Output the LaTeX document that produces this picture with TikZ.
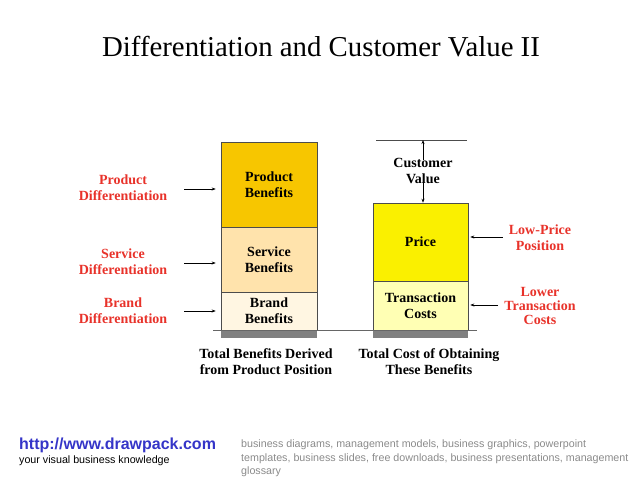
\documentclass[tikz,border=0pt]{standalone}
\usepackage{fontspec}
\setmainfont{Liberation Serif}
\newfontfamily\arialfont{Liberation Sans}
\usetikzlibrary{arrows.meta}
\definecolor{lblred}{HTML}{E8322A}
\definecolor{prodfill}{HTML}{F7C600}
\definecolor{servfill}{HTML}{FFE3AC}
\definecolor{brandfill}{HTML}{FFF6E2}
\definecolor{pricefill}{HTML}{FAF000}
\definecolor{transfill}{HTML}{FFFFB4}
\definecolor{linkblue}{HTML}{3535C8}
\definecolor{footgray}{HTML}{8A8A8A}
\tikzset{
  barbox/.style={draw=black!70, line width=0.6pt, inner sep=0pt, align=center,
    font=\bfseries\fontsize{14}{16}\selectfont},
  redlbl/.style={text=lblred, inner sep=0pt, align=center,
    font=\bfseries\fontsize{14}{16}\selectfont},
  blklbl/.style={inner sep=0pt, align=center,
    font=\bfseries\fontsize{14}{16}\selectfont},
  arr/.style={-{Stealth[length=4pt,width=3pt]}, line width=0.6pt},
  shadowbar/.style={fill=black!50, draw=none}
}
\begin{document}
\begin{tikzpicture}[x=1pt,y=-1pt]
\useasboundingbox (0,0) rectangle (640,480);
% title
\node[inner sep=0pt, font=\fontsize{28.8}{32}\selectfont] (title) at (321,47) {Differentiation and Customer Value II};
% left bar
\node[barbox, fill=prodfill, minimum width=96pt, minimum height=85pt] (prod) at (269,184.5) {Product\\Benefits};
\node[barbox, fill=servfill, minimum width=96pt, minimum height=65pt] (serv) at (269,259.5) {Service\\Benefits};
\node[barbox, fill=brandfill, minimum width=96pt, minimum height=38pt] (brand) at (269,311) {Brand\\Benefits};
\fill[shadowbar] (221,330) rectangle (317,338);
% right bar
\node[barbox, fill=pricefill, minimum width=95pt, minimum height=78pt] (price) at (420.5,242) {Price};
\node[barbox, fill=transfill, minimum width=95pt, minimum height=49pt] (trans) at (420.5,305.5) {Transaction\\Costs};
\fill[shadowbar] (373,330) rectangle (468,338);
% ground line
\coordinate (g1) at (213,330);
\coordinate (g2) at (477,330);
\draw[black!60, line width=0.8pt] (g1) -- (g2);
% top line and customer value
\coordinate (t1) at (376,140);
\coordinate (t2) at (467,140);
\draw[black!70, line width=0.6pt] (t1) -- (t2);
\node[blklbl] (cv) at (423,171) {Customer\\Value};
\draw[arr] ([yshift=-2pt]cv.north) -- (cv.north |- t1);
\draw[arr] ([yshift=2pt]cv.south) -- (cv.south |- price.north);
% left labels
\node[redlbl] (pd) at (123,188) {Product\\Differentiation};
\node[redlbl] (sd) at (123,262) {Service\\Differentiation};
\node[redlbl] (bd) at (123,311) {Brand\\Differentiation};
\draw[arr, shorten >=5pt] ([xshift=17pt,yshift=-1pt]pd.east) -- ([yshift=-1pt]pd.east -| prod.west);
\draw[arr, shorten >=5pt] ([xshift=17pt,yshift=-1pt]sd.east) -- ([yshift=-1pt]sd.east -| serv.west);
\draw[arr, shorten >=5pt] ([xshift=17pt]bd.east) -- (bd.east -| brand.west);
% right labels
\node[redlbl] (lp) at (540,238) {Low-Price\\Position};
\node[redlbl, font=\bfseries\fontsize{14}{14}\selectfont] (lt) at (540,306) {Lower\\Transaction\\Costs};
\draw[arr, shorten >=2pt] ([xshift=-6pt,yshift=1pt]lp.west) -- ([yshift=1pt]lp.west -| price.east);
\draw[arr, shorten >=2pt] ([xshift=-6pt,yshift=1pt]lt.west) -- ([yshift=1pt]lt.west -| trans.east);
% bottom labels
\node[blklbl] (tb) at (266,361.5) {Total Benefits Derived\\from Product Position};
\node[blklbl] (tc) at (429,361.5) {Total Cost of Obtaining\\These Benefits};
% footer
\node[anchor=west, inner sep=0pt, text=linkblue, font=\arialfont\bfseries\fontsize{16}{18}\selectfont] (url) at (19,445) {http://www.drawpack.com};
\node[anchor=west, inner sep=0pt, font=\arialfont\fontsize{10.7}{13}\selectfont] (slogan) at (19,461) {your visual business knowledge};
\node[anchor=north west, inner sep=0pt, align=left, text=footgray, font=\arialfont\fontsize{10.7}{13.5}\selectfont] (tags) at (241,440) {business diagrams, management models, business graphics, powerpoint\\templates, business slides, free downloads, business presentations, management\\glossary};
\end{tikzpicture}
\end{document}
